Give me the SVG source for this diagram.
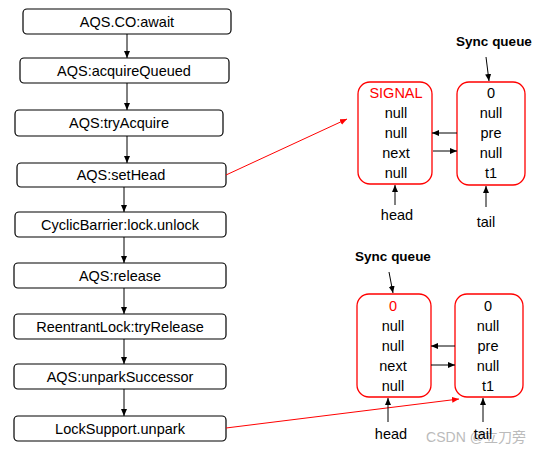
<svg xmlns="http://www.w3.org/2000/svg" width="542" height="453" viewBox="0 0 542 453">
<defs>
<style>
.box{fill:#fff;stroke:#000;stroke-width:1.2}
.rbox{fill:#fff;stroke:#ff0000;stroke-width:1.3}
text{font-family:"Liberation Sans",Arial,sans-serif;font-size:14.5px;fill:#000;text-anchor:middle}
.red{fill:#ff0000}
.b{font-weight:bold;font-size:13.5px}
.ln{stroke:#000;stroke-width:1;fill:none}
.rl{stroke:#ff0000;stroke-width:1;fill:none}
.wm{fill:#bbb;font-size:14px;font-family:"Liberation Sans","Noto Sans CJK SC",sans-serif}
</style>
<marker id="a" markerWidth="8" markerHeight="8" refX="7" refY="4" orient="auto" markerUnits="userSpaceOnUse"><path d="M0,1 L7,4 L0,7 Z" fill="#000"/></marker>
<marker id="ar" markerWidth="8" markerHeight="8" refX="7" refY="4" orient="auto" markerUnits="userSpaceOnUse"><path d="M0,1 L7,4 L0,7 Z" fill="#ff0000"/></marker>
</defs>
<g id="n1"><rect class="box" x="23" y="9" width="208" height="25" rx="4"/><text x="127" y="26.5">AQS.CO:await</text></g>
<g id="n2"><rect class="box" x="20" y="58" width="209" height="25" rx="4"/><text x="124" y="76">AQS:acquireQueued</text></g>
<g id="n3"><rect class="box" x="15" y="110" width="208" height="26" rx="4"/><text x="119" y="128">AQS:tryAcquire</text></g>
<g id="n4"><rect class="box" x="17" y="163" width="209" height="24" rx="4"/><text x="121" y="180">AQS:setHead</text></g>
<g id="n5"><rect class="box" x="15" y="212" width="211" height="25" rx="4"/><text x="120" y="230">CyclicBarrier:lock.unlock</text></g>
<g id="n6"><rect class="box" x="14" y="263" width="212" height="25" rx="4"/><text x="120" y="281">AQS:release</text></g>
<g id="n7"><rect class="box" x="14" y="314" width="212" height="25" rx="4"/><text x="120" y="332">ReentrantLock:tryRelease</text></g>
<g id="n8"><rect class="box" x="14" y="364" width="212" height="25" rx="4"/><text x="120" y="382">AQS:unparkSuccessor</text></g>
<g id="n9"><rect class="box" x="14" y="416" width="212" height="25" rx="4"/><text x="120" y="434">LockSupport.unpark</text></g>

<g id="q1a"><rect class="rbox" x="358" y="82" width="74" height="102" rx="12"/>
<text class="red" x="396" y="98">SIGNAL</text><text x="396" y="118">null</text><text x="396" y="138">null</text><text x="396" y="158">next</text><text x="396" y="178">null</text></g>
<g id="q1b"><rect class="rbox" x="457" y="82" width="68" height="103" rx="12"/>
<text x="491" y="98">0</text><text x="491" y="118">null</text><text x="491" y="138">pre</text><text x="491" y="158">null</text><text x="491" y="178">t1</text></g>
<g id="q2a"><rect class="rbox" x="357" y="294" width="74" height="103" rx="12"/>
<text class="red" x="393" y="311">0</text><text x="393" y="331">null</text><text x="393" y="351">null</text><text x="393" y="371">next</text><text x="393" y="391">null</text></g>
<g id="q2b"><rect class="rbox" x="455" y="294" width="68" height="103" rx="12"/>
<text x="488" y="311">0</text><text x="488" y="331">null</text><text x="488" y="351">pre</text><text x="488" y="371">null</text><text x="488" y="391">t1</text></g>

<g id="labels">
<text class="b" x="494" y="46">Sync queue</text>
<text x="397" y="220">head</text>
<text x="486" y="227">tail</text>
<text class="b" x="393" y="261">Sync queue</text>
<text x="391" y="439">head</text>
<text class="wm" x="476" y="442">CSDN @立刀旁</text>
<text x="483" y="439">tail</text>
</g>

<g id="connectors">
<line class="ln" x1="127" y1="34" x2="127" y2="58" marker-end="url(#a)"/>
<line class="ln" x1="127" y1="83" x2="127" y2="110" marker-end="url(#a)"/>
<line class="ln" x1="127" y1="136" x2="127" y2="163" marker-end="url(#a)"/>
<line class="ln" x1="124" y1="187" x2="124" y2="212" marker-end="url(#a)"/>
<line class="ln" x1="124" y1="237" x2="124" y2="263" marker-end="url(#a)"/>
<line class="ln" x1="124" y1="288" x2="124" y2="314" marker-end="url(#a)"/>
<line class="ln" x1="124" y1="339" x2="124" y2="364" marker-end="url(#a)"/>
<line class="ln" x1="124" y1="389" x2="124" y2="416" marker-end="url(#a)"/>
<line class="rl" x1="226" y1="175" x2="347" y2="119" marker-end="url(#ar)"/>
<line class="rl" x1="226" y1="428" x2="459" y2="399" marker-end="url(#ar)"/>
<line class="ln" x1="457" y1="133" x2="432" y2="133" marker-end="url(#a)"/>
<line class="ln" x1="433" y1="151" x2="457" y2="151" marker-end="url(#a)"/>
<line class="ln" x1="486" y1="57" x2="489" y2="81" marker-end="url(#a)"/>
<line class="ln" x1="395" y1="205" x2="395" y2="185" marker-end="url(#a)"/>
<line class="ln" x1="486" y1="207" x2="486" y2="186" marker-end="url(#a)"/>
<line class="ln" x1="455" y1="346" x2="431" y2="346" marker-end="url(#a)"/>
<line class="ln" x1="431" y1="365" x2="455" y2="365" marker-end="url(#a)"/>
<line class="ln" x1="389" y1="272" x2="393" y2="293" marker-end="url(#a)"/>
<line class="ln" x1="388" y1="422" x2="388" y2="398" marker-end="url(#a)"/>
<line class="ln" x1="483" y1="422" x2="483" y2="398" marker-end="url(#a)"/>
</g>
</svg>
